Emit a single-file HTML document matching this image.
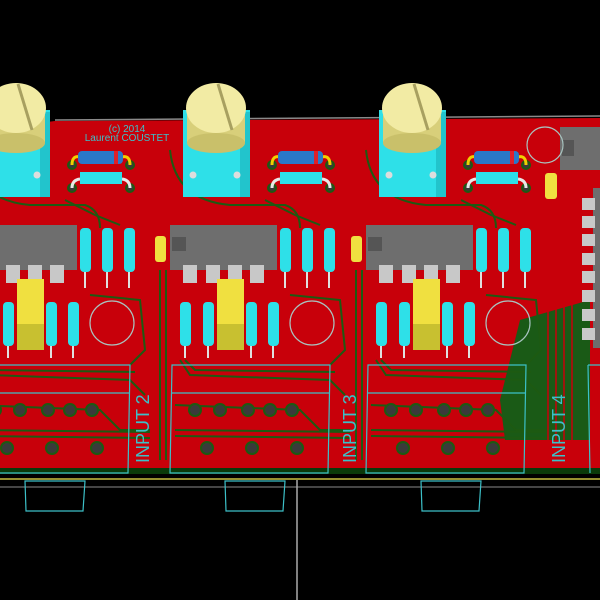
<!DOCTYPE html>
<html><head><style>
html,body{margin:0;padding:0;background:#000;width:600px;height:600px;overflow:hidden}
svg{display:block}
</style></head><body>
<svg width="600" height="600" viewBox="0 0 600 600" xmlns="http://www.w3.org/2000/svg">
<defs>
<g id="ch">
  <g fill="none" stroke="#1d5a12" stroke-width="2">
    <path d="M170 150 Q175 200 230 205 L285 205 Q300 210 300 228"/>
    <path d="M265 200 L295 215 L320 225"/>
    <path d="M160 270 L160 460"/>
    <path d="M166 270 L166 460"/>
    <path d="M290 295 L340 300 L345 350 L330 365"/>
    <path d="M180 360 L190 375 L330 380 L345 395"/>
    <path d="M185 360 L195 370 L335 372"/>
    <path d="M175 405 L300 410 L320 430 L350 430"/>
    <path d="M175 430 L350 432"/>
    <path d="M175 436 L350 438"/>
  </g>
  <g fill="none" stroke="#3cc0c8" stroke-width="1.2">
    <path d="M172 365 L330 365 L328 473 L170 473 Z"/>
    <line x1="172" y1="393" x2="330" y2="393"/>
    <circle cx="312" cy="323" r="22" stroke="#a9c4c0"/>
    <path d="M225 481 L285 481 L283 511 L226 511 Z"/>
  </g>
  <g fill="#3a3a3a" stroke="#1d5a12" stroke-width="2">
    <circle cx="195" cy="410" r="6"/><circle cx="220" cy="410" r="6"/>
    <circle cx="248" cy="410" r="6"/><circle cx="270" cy="410" r="6"/><circle cx="292" cy="410" r="6"/>
    <circle cx="207" cy="448" r="6"/><circle cx="252" cy="448" r="6"/><circle cx="297" cy="448" r="6"/>
    <circle cx="190" cy="185" r="4"/><circle cx="237" cy="185" r="4"/>
    <circle cx="272" cy="165" r="4"/><circle cx="330" cy="165" r="4"/>
    <circle cx="272" cy="188" r="4"/><circle cx="330" cy="188" r="4"/>
  </g>
  <rect x="183" y="110" width="67" height="87" fill="#2ee0e8"/>
  <rect x="240" y="112" width="10" height="85" fill="#22c4cc"/>
  <circle cx="193" cy="175" r="3.5" fill="#ddd"/><circle cx="237" cy="175" r="3.5" fill="#ddd"/>
  <rect x="187" y="115" width="58" height="28" fill="#d8cf7a"/>
  <ellipse cx="216" cy="143" rx="29" ry="10" fill="#c9c06a"/>
  <ellipse cx="216" cy="108" rx="30" ry="25" fill="#f2eba4"/>
  <line x1="218" y1="84" x2="232" y2="130" stroke="#a8a060" stroke-width="3"/>
  <path d="M272 165 Q272 155 280 157" stroke="#f0d000" stroke-width="3" fill="none"/>
  <path d="M330 165 Q330 155 322 157" stroke="#f0d000" stroke-width="3" fill="none"/>
  <rect x="278" y="151" width="45" height="13" rx="4" fill="#2a78c8"/>
  <rect x="314" y="151" width="4" height="13" fill="#e0202a"/>
  <path d="M272 188 Q272 180 280 179 M330 188 Q330 180 322 179" stroke="#e8e8e8" stroke-width="3" fill="none"/>
  <rect x="280" y="172" width="42" height="12" fill="#2ee0e8"/>
  <rect x="155" y="236" width="11" height="26" rx="3" fill="#f0e040"/>
  <rect x="170" y="225" width="107" height="45" fill="#6e6e6e"/>
  <rect x="172" y="237" width="14" height="14" fill="#555"/>
  <g fill="#c8c8c8">
    <rect x="183" y="265" width="14" height="18"/><rect x="206" y="265" width="14" height="18"/>
    <rect x="228" y="265" width="14" height="18"/><rect x="250" y="265" width="14" height="18"/>
  </g>
  <g fill="#2ee0e8">
    <rect x="280" y="228" width="11" height="44" rx="4"/><rect x="302" y="228" width="11" height="44" rx="4"/>
    <rect x="324" y="228" width="11" height="44" rx="4"/>
    <rect x="180" y="302" width="11" height="44" rx="4"/><rect x="203" y="302" width="11" height="44" rx="4"/>
    <rect x="246" y="302" width="11" height="44" rx="4"/><rect x="268" y="302" width="11" height="44" rx="4"/>
  </g>
  <g stroke="#e0e0e0" stroke-width="2">
    <line x1="285" y1="272" x2="285" y2="288"/><line x1="307" y1="272" x2="307" y2="288"/><line x1="329" y1="272" x2="329" y2="288"/>
    <line x1="185" y1="346" x2="185" y2="358"/><line x1="208" y1="346" x2="208" y2="358"/>
    <line x1="251" y1="346" x2="251" y2="358"/><line x1="273" y1="346" x2="273" y2="358"/>
  </g>
  <rect x="217" y="279" width="27" height="45" fill="#f0e040"/>
  <rect x="217" y="324" width="27" height="26" fill="#c8c030"/>
</g>
</defs>

<polygon points="0,128 55,121 600,118 600,473 0,473" fill="#c8000a"/>
<line x1="55" y1="120" x2="600" y2="116" stroke="#8a8a8a" stroke-width="1.5"/>
<rect x="0" y="468" width="600" height="6" fill="#0a3a0a"/>
<line x1="0" y1="479" x2="600" y2="479" stroke="#c8c040" stroke-width="1.5"/>
<line x1="0" y1="487" x2="600" y2="487" stroke="#8a8a8a" stroke-width="1"/>
<line x1="297" y1="480" x2="297" y2="600" stroke="#aaa" stroke-width="1.5"/>

<polygon points="520,320 590,300 590,440 505,440 500,400" fill="#1a5a16"/>
<g stroke="#c8000a" stroke-width="1.5" fill="none">
  <path d="M548 250 L548 460"/><path d="M556 245 L556 460"/><path d="M564 240 L564 460"/><path d="M572 235 L572 460"/>
</g>

<use href="#ch" transform="translate(-200,0)"/>
<use href="#ch"/>
<use href="#ch" transform="translate(196,0)"/>

<rect x="560" y="127" width="40" height="43" fill="#6e6e6e"/>
<rect x="562" y="140" width="12" height="16" fill="#555"/>
<circle cx="545" cy="145" r="18" fill="none" stroke="#a9c4c0" stroke-width="1.2"/>
<rect x="545" y="173" width="12" height="26" rx="3" fill="#f0e040"/>
<rect x="593" y="188" width="7" height="160" fill="#6e6e6e"/>
<g fill="#c8c8c8">
  <rect x="582" y="198" width="13" height="12"/><rect x="582" y="216" width="13" height="12"/>
  <rect x="582" y="234" width="13" height="12"/><rect x="582" y="253" width="13" height="12"/>
  <rect x="582" y="271" width="13" height="12"/><rect x="582" y="290" width="13" height="12"/>
  <rect x="582" y="309" width="13" height="12"/><rect x="582" y="328" width="13" height="12"/>
</g>
<path d="M588 365 L600 365 M588 365 L590 473" stroke="#3cc0c8" stroke-width="1.2" fill="none"/>

<g font-family="Liberation Sans, sans-serif" fill="#3cc0c8">
  <text x="127" y="132" font-size="10" text-anchor="middle">(c) 2014</text>
  <text x="127" y="141" font-size="10" text-anchor="middle">Laurent COUSTET</text>
  <text transform="translate(149,463) rotate(-90)" font-size="18">INPUT 2</text>
  <text transform="translate(356,463) rotate(-90)" font-size="18">INPUT 3</text>
  <text transform="translate(565,463) rotate(-90)" font-size="18">INPUT 4</text>
</g>
</svg>
</body></html>
